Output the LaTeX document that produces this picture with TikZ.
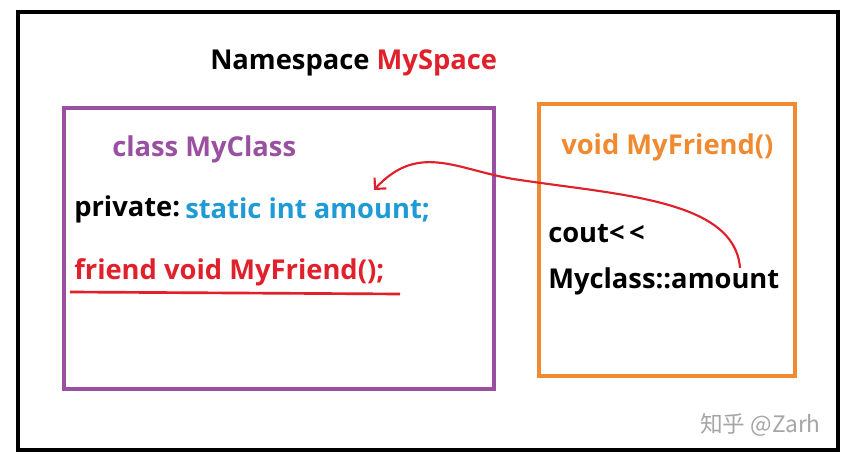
\documentclass[tikz,border=0pt]{standalone}
\usepackage{fontspec}
\setmainfont{Open Sans}
\newfontfamily\cjk{Noto Sans CJK SC}
\usetikzlibrary{arrows.meta}
\definecolor{pur}{HTML}{9A50A0}
\definecolor{ora}{HTML}{F08A30}
\definecolor{blu}{HTML}{1E9AD6}
\definecolor{rd}{HTML}{E0202A}
\begin{document}
\begin{tikzpicture}[x=0.75pt,y=-0.75pt,
  lbl/.style={font=\fontsize{20.5}{24}\selectfont\bfseries,inner sep=0pt,anchor=west}]
\useasboundingbox (0,0) rectangle (861,459);
\fill[white] (0,0) rectangle (861,459);
\draw[line width=2.5pt] (18,12) rectangle (838,450);
\draw[pur,line width=3pt] (64,108) rectangle (494,389);
\draw[ora,line width=3pt] (539,104) rectangle (795,376);
\node[lbl] (t) at (210,63) {Namespace \textcolor{rd}{MySpace}};
\node[lbl,pur] (c) at (112,149) {class MyClass};
\node[lbl] (p) at (74,209) {private:};
\node[lbl,blu] (s) at (185,210) {static int amount;};
\node[lbl,rd] (f) at (74,272) {friend void MyFriend();};
\node[lbl,ora] (v) at (561,147) {void MyFriend()};
\node[lbl] (co) at (548,234) {cout{<}\,{<}};
\node[lbl] (m) at (548,281) {Myclass::amount};
\draw[rd,line width=2pt] (70,292) -- (400,294);
\coordinate (e) at (740,268);
\coordinate (h) at (374,190);
\draw[rd,line width=1.6pt,-{Straight Barb[length=6pt]}] (e) .. controls (735,200) and (620,195) .. (520,180)
  .. controls (460,172) and (420,140) .. (h);
\node[font=\cjk\fontsize{17}{20}\selectfont,text=gray!70,anchor=west,inner sep=0pt] (w) at (700,425) {知乎 @Zarh};
\end{tikzpicture}
\end{document}
